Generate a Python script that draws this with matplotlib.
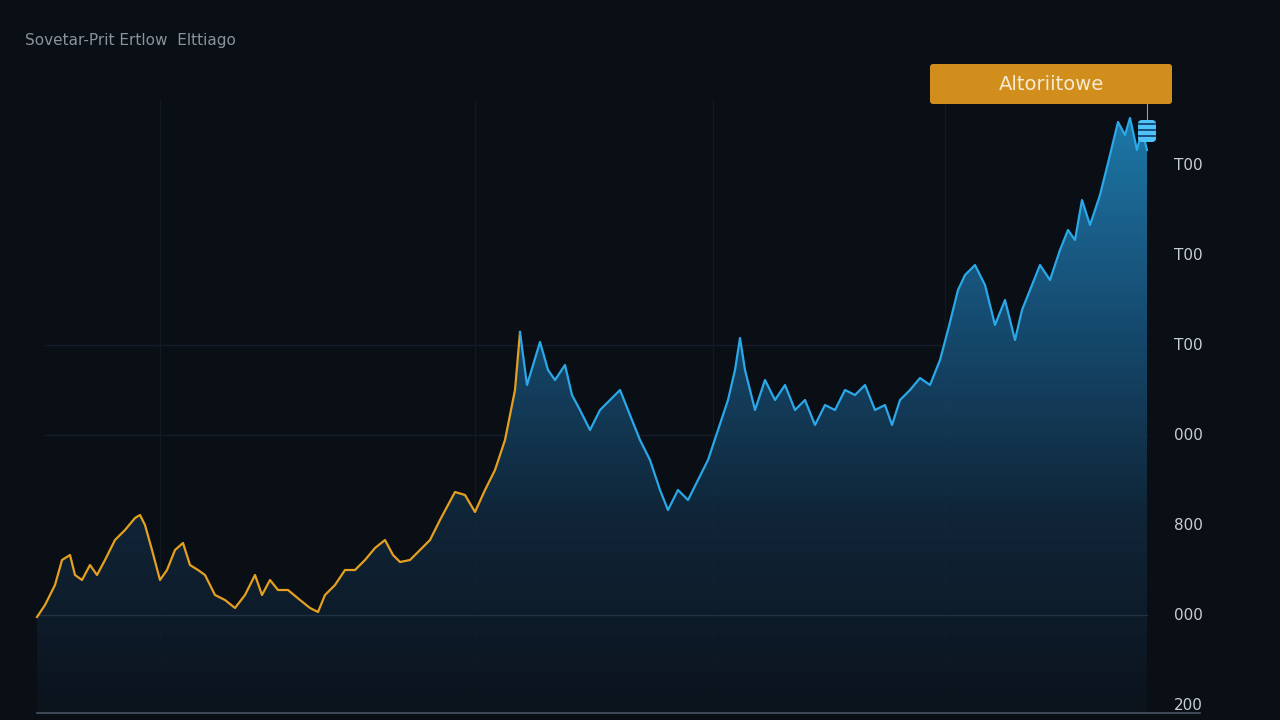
import matplotlib

matplotlib.use("Agg")
import matplotlib.pyplot as plt
import numpy as np
from matplotlib.patches import FancyBboxPatch, Polygon

# day index and price
days = [37, 45, 55, 62, 70, 75, 82, 90, 97, 105, 115, 125, 135, 140, 145, 152, 160, 167, 175, 183,
        190, 198, 205, 215, 225, 235, 245, 255, 262, 270, 278, 288, 300, 310, 318, 325, 335, 345,
        355, 365, 375, 385, 393, 400, 410, 420, 430, 440, 448, 455, 465, 475, 485, 495, 505, 515,
        520, 527, 540, 548, 555, 565, 572, 580, 590, 600, 610, 620, 630, 640, 650, 660, 668, 678,
        688, 698, 708, 718, 728, 735, 740, 745, 755, 765, 775, 785, 795, 805, 815, 825, 835, 845,
        855, 865, 875, 885, 892, 900, 910, 920, 930, 940, 948, 958, 965, 975, 985, 995, 1005, 1015,
        1022, 1030, 1040, 1050, 1060, 1068, 1075, 1082, 1090, 1100, 1110, 1118, 1125, 1130, 1137,
        1142, 1147]
price = [103, 115, 135, 160, 165, 145, 140, 155, 145, 160, 180, 190, 202, 205, 195, 170, 140, 150,
         170, 177, 155, 150, 145, 125, 120, 112, 125, 145, 125, 140, 130, 130, 120, 112, 108, 125,
         135, 150, 150, 160, 172, 180, 165, 158, 160, 170, 180, 200, 215, 228, 225, 208, 230, 250,
         280, 330, 388, 335, 378, 350, 340, 355, 325, 310, 290, 310, 320, 330, 305, 280, 260, 230,
         210, 230, 220, 240, 260, 290, 320, 350, 382, 350, 310, 340, 320, 335, 310, 320, 295, 315,
         310, 330, 325, 335, 310, 315, 295, 320, 330, 342, 335, 360, 390, 430, 445, 455, 435, 395,
         420, 380, 410, 430, 455, 440, 470, 490, 480, 520, 495, 525, 565, 598, 585, 602, 570, 590,
         570]
SPLIT = 520  # day where the orange history turns into the blue section
tick_vals = [555, 465, 375, 285, 195, 105, 15]
tick_labels = ["T00", "T00", "T00", "000", "800", "000", "200"]
title = "Sovetar-Prit Ertlow  Elttiago"
badge = "Altoriitowe"

BG = "#0a0e15"
ORANGE = "#e5a020"
BLUE = "#2aa8e8"

x = np.array(days, dtype=float)
y = np.array(price, dtype=float)

fig = plt.figure(figsize=(12.8, 7.2), dpi=100, facecolor=BG)
ax = fig.add_axes([0, 0, 1, 1], facecolor=BG)
ax.set_xlim(0, 1280)
ax.set_ylim(0, 720)
ax.axis("off")

# faint grid, behind the fill
for gy in (375, 285):
    ax.plot([45, 1147], [gy, gy], color="#161d28", lw=1, zorder=0.5)
for gx in (160, 475, 713, 945):
    ax.plot([gx, gx], [7, 620], color="#121923", lw=1, zorder=0.5)
ax.plot([37, 1147], [105, 105], color="#1e3145", lw=1, zorder=2)
ax.plot([37, 1200], [7, 7], color="#4a5563", lw=1.2, zorder=2)

# gradient fill under the line
grad = np.linspace(0, 1, 256).reshape(-1, 1)
cmap = matplotlib.colors.LinearSegmentedColormap.from_list(
    "f", ["#0c131c", "#112a3f", "#195a86", "#2290c8"])
img = ax.imshow(grad, extent=(37, 1147, 0, 620), origin="lower", cmap=cmap,
                aspect="auto", zorder=1, alpha=0.85)
poly = Polygon(np.column_stack([np.r_[x[0], x, x[-1]], np.r_[7, y, 7]]),
               closed=True, transform=ax.transData, facecolor="none", edgecolor="none")
ax.add_patch(poly)
img.set_clip_path(poly)

ax.plot(x[x <= SPLIT], y[x <= SPLIT], color=ORANGE, lw=1.6, zorder=3)
ax.plot(x[x >= SPLIT], y[x >= SPLIT], color=BLUE, lw=1.6, zorder=3)

for v, lab in zip(tick_vals, tick_labels):
    ax.text(1188, v, lab, color="#c8ced6", fontsize=11, ha="center", va="center")

ax.text(25, 680, title, color="#8a929c", fontsize=11, ha="left", va="center")

box = FancyBboxPatch((930, 616), 242, 40, boxstyle="round,pad=0,rounding_size=3",
                     facecolor="#d18e1c", edgecolor="none", zorder=4)
ax.add_patch(box)
ax.text(1051, 636, badge, color="#f7ead2", fontsize=14, ha="center", va="center", zorder=5)
ax.plot([1147, 1147], [600, 616], color="#8aa0b0", lw=0.8, zorder=4)
ax.add_patch(FancyBboxPatch((1138, 578), 18, 22, boxstyle="round,pad=0,rounding_size=4",
                            facecolor="#4fc3f7", edgecolor="none", zorder=5))
for sy in (584, 590, 596):
    ax.plot([1139, 1155], [sy, sy], color="#0e3a66", lw=1.2, zorder=6)

fig.savefig("out.png", dpi=100, facecolor=BG)
